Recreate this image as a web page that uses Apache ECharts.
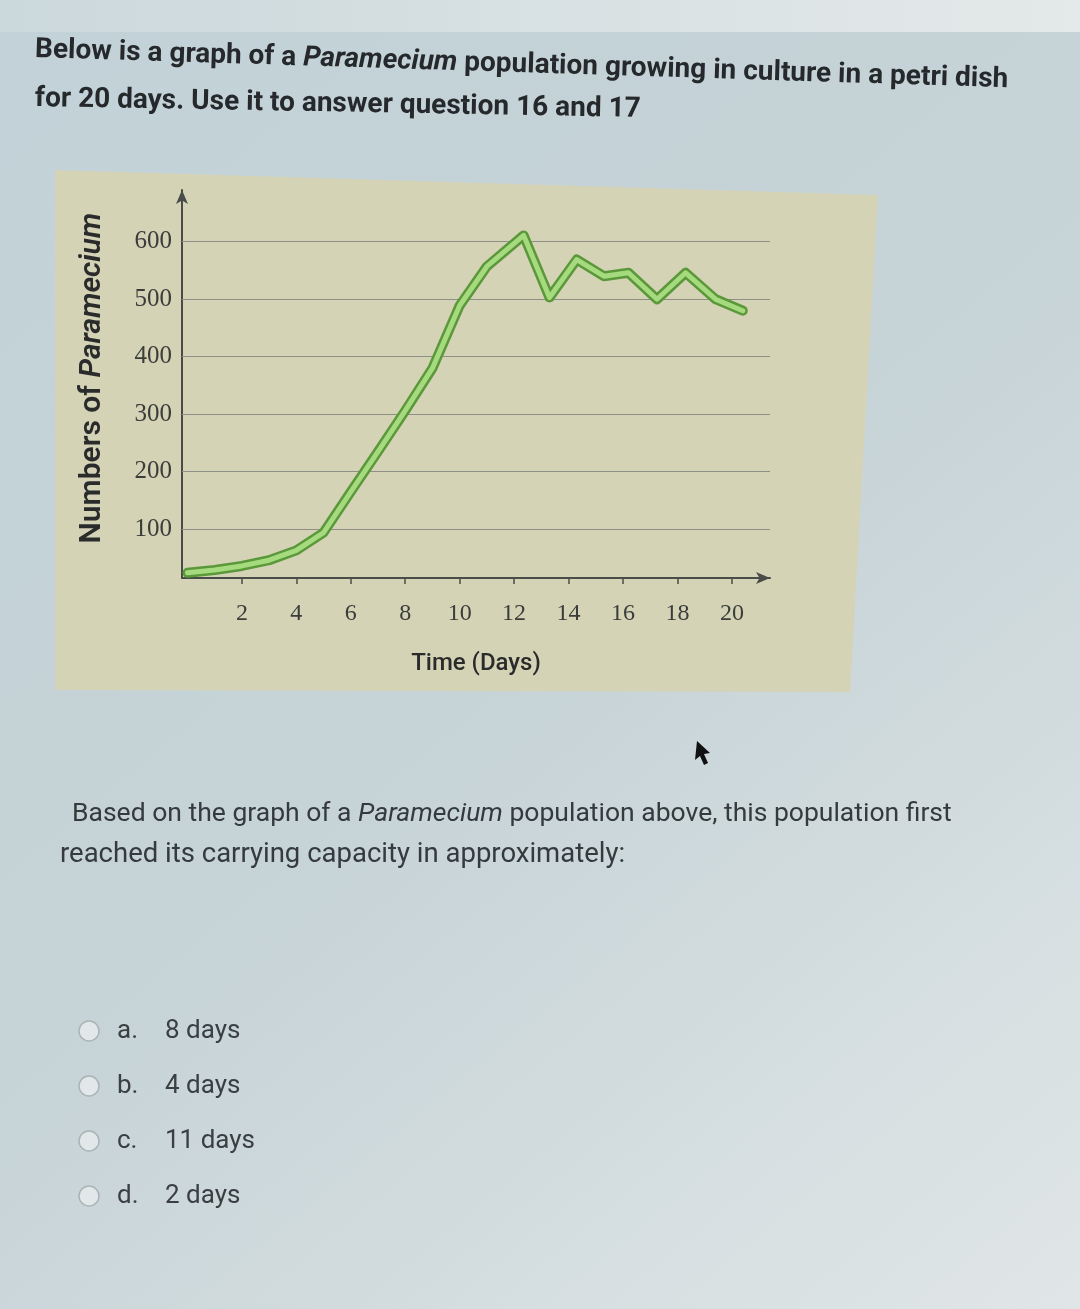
<!DOCTYPE html>
<html>
<head>
<meta charset="utf-8">
<title>Paramecium population</title>
<script src="https://cdn.jsdelivr.net/npm/echarts@6/dist/echarts.min.js"></script>
<style>
  html, body { margin: 0; padding: 0; }
  #chart { width: 1080px; height: 1309px; }
</style>
</head>
<body>
<div id="chart"></div>
<script>
// values (day, number of Paramecium)
const days = [0, 1, 2, 3, 4, 5, 6, 7, 8, 9, 10, 11, 12.35, 13.3, 14.3, 15.3, 16.2, 17.25, 18.3, 19.4, 20.4]
const counts = [24, 29, 36, 46, 63, 94, 165, 235, 306, 380, 489, 557, 611, 503, 569, 540, 546, 500, 546, 500, 480]
const xTicks = [2, 4, 6, 8, 10, 12, 14, 16, 18, 20]
const yTicks = [100, 200, 300, 400, 500, 600]
const answers = [['a.', '8 days'], ['b.', '4 days'], ['c.', '11 days'], ['d.', '2 days']]

const chart = echarts.init(document.getElementById('chart'))
const points = days.map((d, i) => [d, counts[i]])

const sans = 'Roboto, "Liberation Sans", sans-serif'
const serif = '"Liberation Serif", "DejaVu Serif", serif'

const answerText = []
answers.forEach((a, i) => {
  const y = 1031 + i * 55
  answerText.push({
    type: 'circle', shape: { cx: 89, cy: y, r: 10 },
    style: { fill: '#e2e8e9', stroke: '#aab4b6', lineWidth: 1.5 }
  })
  answerText.push({
    type: 'text',
    style: { x: 117, y: y, text: a[0], verticalAlign: 'middle', font: '26px ' + sans, fill: '#3a3f41' }
  })
  answerText.push({
    type: 'text',
    style: { x: 165, y: y, text: a[1], verticalAlign: 'middle', font: '26px ' + sans, fill: '#3a3f41' }
  })
})

chart.setOption({
  animation: false,
  graphic: [
    {
      type: 'rect', z: -20, shape: { x: 0, y: 0, width: 1080, height: 1309 },
      style: {
        fill: new echarts.graphic.LinearGradient(0, 0, 1, 1, [
          { offset: 0, color: '#c2d2d8' },
          { offset: 0.5, color: '#c6d3d7' },
          { offset: 1, color: '#e0e6e7' }
        ])
      }
    },
    {
      type: 'rect', z: -19, shape: { x: 0, y: 0, width: 1080, height: 32 },
      style: {
        fill: new echarts.graphic.LinearGradient(0, 0, 1, 0, [
          { offset: 0, color: '#cbd8dc' },
          { offset: 1, color: '#e4e9e9' }
        ])
      }
    },
    {
      type: 'polygon', z: -18,
      shape: { points: [[55, 170], [878, 195], [850, 692], [55, 690]] },
      style: { fill: '#d5d3b6' }
    },
    {
      type: 'text', x: 35, y: 50, rotation: -0.031,
      style: {
        x: 0, y: 0, verticalAlign: 'middle',
        text: '{b|Below is a graph of a }{i|Paramecium}{b| population growing in culture in a petri dish}',
        rich: {
          b: { font: 'bold 28px ' + sans, fill: '#26292b' },
          i: { font: 'italic bold 28px ' + sans, fill: '#26292b' }
        }
      }
    },
    {
      type: 'text', x: 35, y: 99, rotation: -0.018,
      style: {
        x: 0, y: 0, verticalAlign: 'middle',
        text: 'for 20 days. Use it to answer question 16 and 17',
        font: 'bold 28px ' + sans, fill: '#26292b'
      }
    },
    {
      type: 'text', x: 92, y: 378, rotation: Math.PI / 2,
      style: {
        x: 0, y: 0, align: 'center', verticalAlign: 'middle',
        text: '{b|Numbers of }{i|Paramecium}',
        rich: {
          b: { font: '600 30px ' + sans, fill: '#2a2c2c' },
          i: { font: 'italic 600 30px ' + sans, fill: '#2a2c2c' }
        }
      }
    },
    {
      type: 'text', x: 72, y: 814,
      style: {
        x: 0, y: 0, verticalAlign: 'middle',
        text: '{r|Based on the graph of a }{i|Paramecium}{r| population above, this population first}',
        rich: {
          r: { font: '26.5px ' + sans, fill: '#353a3c' },
          i: { font: 'italic 26.5px ' + sans, fill: '#353a3c' }
        }
      }
    },
    {
      type: 'text', x: 60, y: 855,
      style: {
        x: 0, y: 0, verticalAlign: 'middle',
        text: 'reached its carrying capacity in approximately:',
        font: '27.5px ' + sans, fill: '#353a3c'
      }
    },
    {
      type: 'polygon',
      shape: { points: [[697, 741], [710, 753], [704, 754], [708, 763], [704, 765], [700, 756], [695, 760]] },
      style: { fill: '#111' }
    }
  ].concat(answerText),
  grid: { left: 182, right: 310, top: 190, bottom: 731 },
  xAxis: {
    type: 'value', min: -0.2, max: 21.4,
    name: 'Time (Days)', nameLocation: 'middle', nameGap: 74,
    nameTextStyle: { fontFamily: sans, fontSize: 24, fontWeight: 500, color: '#2a2c2c' },
    axisLine: { onZero: false, lineStyle: { color: '#4a4c48', width: 2 }, symbol: ['none', 'arrow'], symbolSize: [9, 14] },
    axisTick: { show: true, length: 6, customValues: xTicks, lineStyle: { color: '#4a4c48', width: 1.5 } },
    axisLabel: { margin: 24, fontFamily: serif, fontSize: 24, color: '#3b3d3a', customValues: xTicks },
    splitLine: { show: false }
  },
  yAxis: {
    type: 'value', min: 15, max: 690,
    axisLine: { show: true, onZero: false, lineStyle: { color: '#4a4c48', width: 2 }, symbol: ['none', 'arrow'], symbolSize: [9, 14] },
    axisTick: { show: false },
    axisLabel: { margin: 10, fontFamily: serif, fontSize: 25, color: '#3b3d3a', customValues: yTicks },
    splitLine: { show: false }
  },
  series: [
    {
      name: 'outline', type: 'line', data: points, symbol: 'none', z: 3,
      lineStyle: { color: '#5a983a', width: 10, cap: 'round', join: 'round' },
      markLine: {
        z: 1, silent: true, symbol: 'none', label: { show: false },
        lineStyle: { color: '#8e8f86', type: 'solid', width: 1.2 },
        data: yTicks.map(v => ({ yAxis: v }))
      }
    },
    {
      name: 'Paramecium', type: 'line', data: points, symbol: 'none', z: 4,
      lineStyle: { color: '#a6da7e', width: 5, cap: 'round', join: 'round' }
    }
  ]
})
</script>
</body>
</html>
